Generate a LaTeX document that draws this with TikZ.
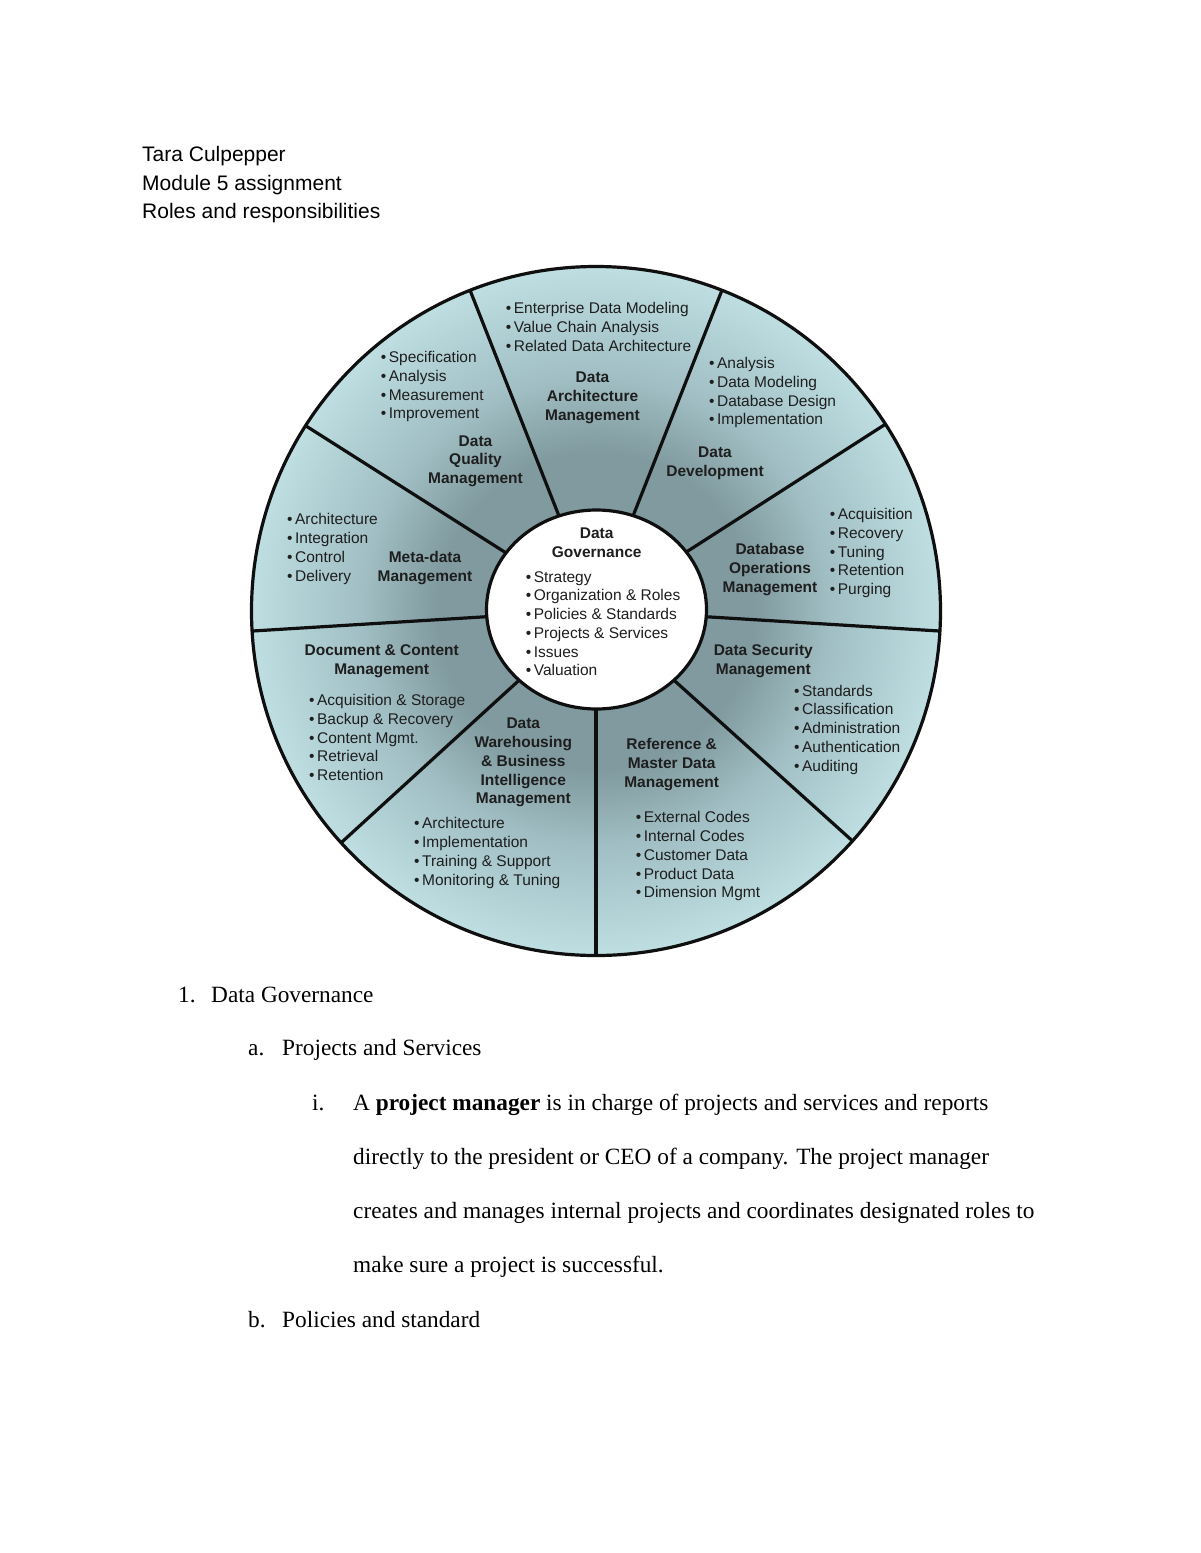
\documentclass[tikz,border=0pt]{standalone}
\usepackage{tikz}
\usepackage{fontspec}
\setmainfont{Liberation Serif}
\newfontfamily\arial{Liberation Sans}
\definecolor{lt}{RGB}{190,222,226}
\definecolor{md}{RGB}{160,190,195}
\definecolor{dk}{RGB}{128,154,159}
\definecolor{txt}{RGB}{30,30,30}
\definecolor{wl}{RGB}{15,15,15}
\pgfdeclareradialshading{wheelshade}{\pgfpoint{0bp}{0bp}}{color(0bp)=(dk); color(11.5bp)=(dk); color(17bp)=(md); color(25bp)=(lt); color(50bp)=(lt)}
\tikzset{
  bul/.style={font=\arial\fontsize{15.5}{18}\selectfont, anchor=base west, inner sep=0pt, text=txt},
  ttl/.style={font=\arial\bfseries\fontsize{15.5}{18}\selectfont, anchor=base, inner sep=0pt, text=txt},
  hdr/.style={font=\arial\fontsize{21}{25}\selectfont, anchor=base west, inner sep=0pt},
  body/.style={font=\fontsize{23.3}{28}\selectfont, anchor=base west, inner sep=0pt},
  wline/.style={draw=wl, line width=3.2pt},
}
\newcommand{\blist}[5]{%
  \foreach \t [count=\i] in {#5}{%
    \node[bul] (#1-\i) at (#2,{#3+(\i-1)*#4}) {•\kern2.5pt\t};
  }}
\newcommand{\tlist}[5]{%
  \foreach \t [count=\i] in {#5}{%
    \node[ttl] (#1-\i) at (#2,{#3+(\i-1)*#4}) {\t};
  }}
\begin{document}
\begin{tikzpicture}[x=1pt,y=-1pt]
\useasboundingbox (0,0) rectangle (1200,1553);
\fill[white] (0,0) rectangle (1200,1553);

% header
\node[hdr] (h1) at (142,161.5) {Tara Culpepper};
\node[hdr] (h2) at (142,190) {Module 5 assignment};
\node[hdr] (h3) at (142,218.5) {Roles and responsibilities};

% wheel
\fill[shading=wheelshade] (596,611) circle[radius=344];
\foreach \a in {111.5,68.5,32.7,-3.5,-42,-90,-137.6,183.5,147.6}
  \draw[wline] (596,610) -- ++({344*cos(\a)},{-344*sin(\a)});
\filldraw[fill=white, wline] (596.5,609.5) ellipse[x radius=110, y radius=99.5];
\draw[wline] (596,611) circle[radius=344.5];

% Data Quality
\blist{dq}{380.7}{362.2}{18.9}{Specification,Analysis,Measurement,Improvement}
\tlist{dqt}{475.5}{446}{18.8}{Data,Quality,Management}
% Data Architecture
\blist{da}{505.7}{313.5}{19}{Enterprise Data Modeling,Value Chain Analysis,Related Data Architecture}
\tlist{dat}{592.5}{382}{19}{Data,Architecture,Management}
% Data Development
\blist{dd}{709}{368.5}{18.8}{Analysis,Data Modeling,Database Design,Implementation}
\tlist{ddt}{715}{457.5}{19}{Data,Development}
% Database Operations
\tlist{dot}{770}{554.5}{18.8}{Database,Operations,Management}
\blist{do}{829.7}{519.5}{18.8}{Acquisition,Recovery,Tuning,Retention,Purging}
% Meta-data
\blist{md}{287}{524.5}{18.9}{Architecture,Integration,Control,Delivery}
\tlist{mdt}{425}{562}{19}{Meta-data,Management}
% Data Governance
\tlist{dgt}{596.7}{538.5}{18.7}{Data,Governance}
\blist{dg}{525.7}{582.2}{18.75}{Strategy,Organization \& Roles,Policies \& Standards,Projects \& Services,Issues,Valuation}
% Document & Content
\tlist{dct}{381.7}{655.5}{18.5}{Document \& Content,Management}
\blist{dc}{309}{705.5}{18.75}{Acquisition \& Storage,Backup \& Recovery,Content Mgmt.,Retrieval,Retention}
% Data Warehousing
\tlist{dwt}{523.3}{728.8}{18.75}{Data,Warehousing,\& Business,Intelligence,Management}
\blist{dw}{414}{828.2}{19.1}{Architecture,Implementation,Training \& Support,Monitoring \& Tuning}
% Reference & Master
\tlist{rmt}{671.7}{749.5}{18.8}{Reference \&,Master Data,Management}
\blist{rm}{635.7}{822.8}{18.75}{External Codes,Internal Codes,Customer Data,Product Data,Dimension Mgmt}
% Data Security
\tlist{dst}{763.3}{655.5}{18.5}{Data Security,Management}
\blist{ds}{794}{696.2}{18.75}{Standards,Classification,Administration,Authentication,Auditing}

% body text
\node[body] (n1) at (178,1002) {1.};
\node[body] (n1t) at (211,1002) {Data Governance};
\node[body] (na) at (248,1055) {a.};
\node[body] (nat) at (282,1055) {Projects and Services};
\node[body] (ni) at (312,1110) {i.};
\node[body] (l1) at (353,1110) {A \textbf{project manager} is in charge of projects and services and reports};
\node[body] (l2) at (353,1164) {directly to the president or CEO of a company. The project manager};
\node[body] (l3) at (353,1218) {creates and manages internal projects and coordinates designated roles to};
\node[body] (l4) at (353,1272) {make sure a project is successful.};
\node[body] (nb) at (248,1327) {b.};
\node[body] (nbt) at (282,1327) {Policies and standard};
\end{tikzpicture}
\end{document}
